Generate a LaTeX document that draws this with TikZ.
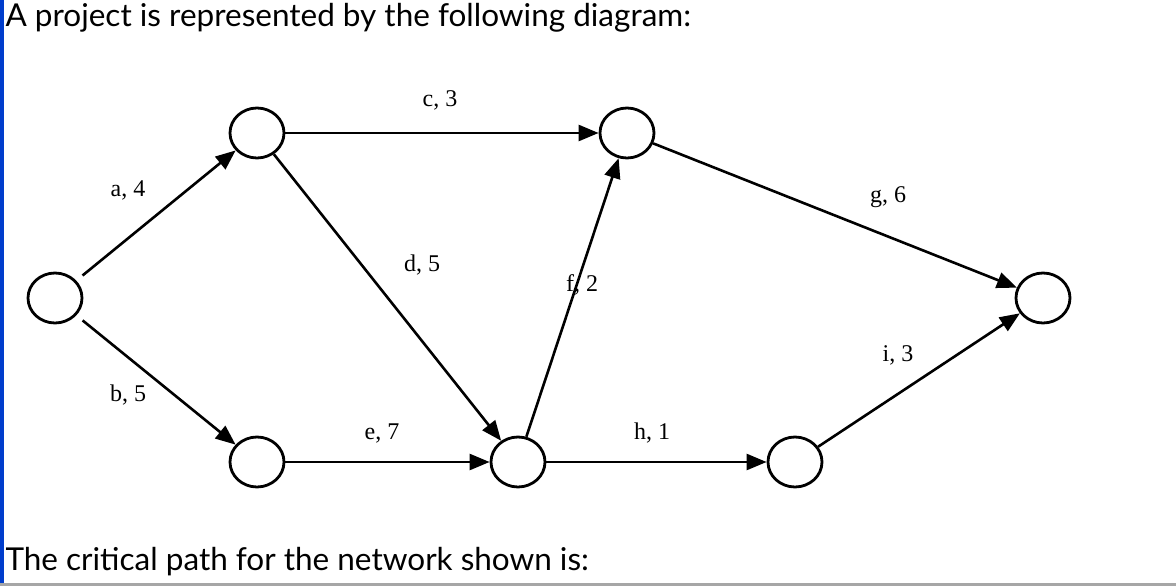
\documentclass[tikz,border=0pt]{standalone}
\usepackage{fontspec}
\setmainfont{Liberation Serif}
\newfontfamily\uifont{Lato}
\usetikzlibrary{arrows.meta,shapes.geometric}
\begin{document}
\begin{tikzpicture}[x=1pt,y=-1pt,
  ev/.style={draw,line width=2.8pt,ellipse,minimum width=54pt,minimum height=50pt,inner sep=0pt},
  act/.style={line width=2.6pt,-{Triangle[length=20pt,width=16pt]}},
  lab/.style={font=\fontsize{24}{24}\selectfont},
  ui/.style={font=\uifont\fontsize{31.5}{31.5}\selectfont,anchor=west}]
\useasboundingbox (0,0) rectangle (1176,586);
\fill[white] (0,0) rectangle (1176,586);
\fill[blue!70!cyan!80!black] (0,0) rectangle (4,586);
\fill[gray!70] (0,583) rectangle (1176,586);
\node[ui] (t1) at (2,18) {A project is represented by the following diagram:};
\node[ui] (t2) at (2,562) {The critical path for the network shown is:};
\node[ev] (n1) at (55,298) {};
\node[ev] (n2) at (257,133) {};
\node[ev] (n3) at (257,462) {};
\node[ev] (n4) at (627,133) {};
\node[ev] (n5) at (518,462) {};
\node[ev] (n6) at (1043,298) {};
\node[ev] (n7) at (795,462) {};
\draw[act,shorten <=8pt] (n1) -- (n2);
\draw[act,shorten <=8pt] (n1) -- (n3);
\draw[act] (n2) -- (n4);
\draw[act] (n2) -- (n5);
\draw[act] (n3) -- (n5);
\draw[act] (n5) -- (n4);
\draw[act] (n5) -- (n7);
\draw[act] (n4) -- (n6);
\draw[act] (n7) -- (n6);
\node[lab] (la) at (128,190) {a, 4};
\node[lab] (lb) at (128,395) {b, 5};
\node[lab] (lc) at (440,100) {c, 3};
\node[lab] (ld) at (422,265) {d, 5};
\node[lab] (le) at (382,433) {e, 7};
\node[lab] (lf) at (582,285) {f, 2};
\node[lab] (lg) at (888,197) {g, 6};
\node[lab] (lh) at (652,433) {h, 1};
\node[lab] (li) at (898,355) {i, 3};
\end{tikzpicture}
\end{document}
